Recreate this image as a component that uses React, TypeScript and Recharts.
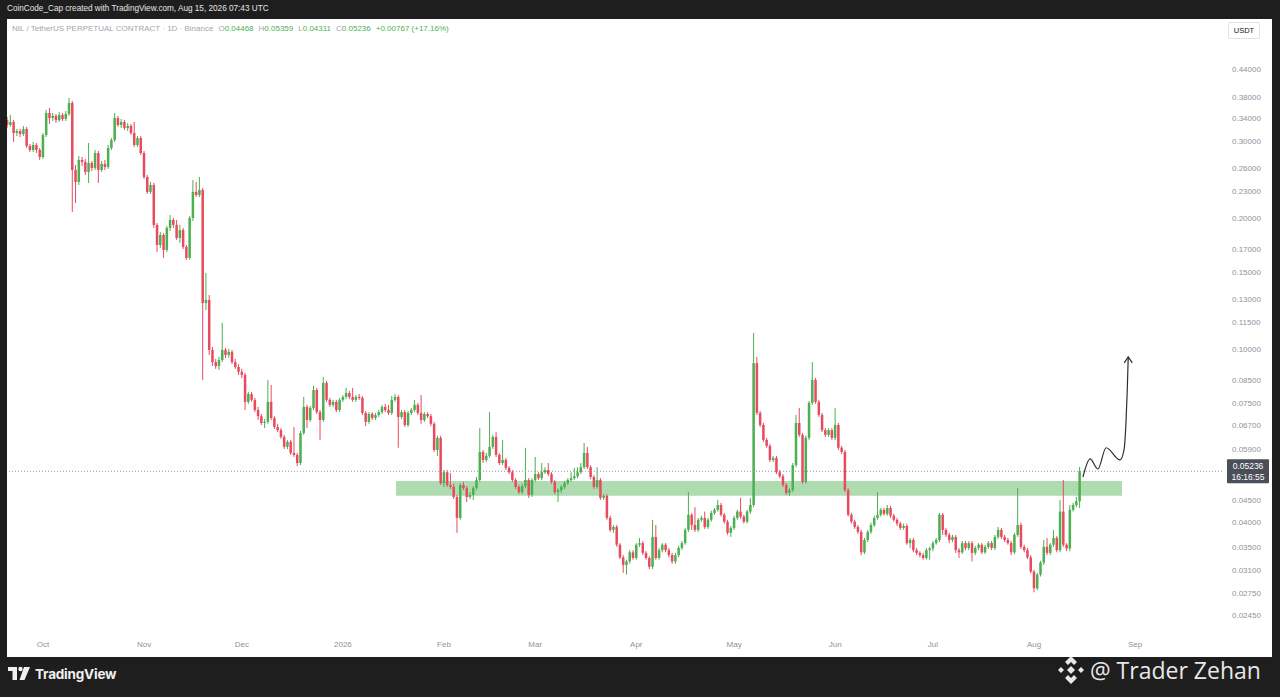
import React from 'react';
import {
  ComposedChart, Bar, Line, XAxis, YAxis, ReferenceArea, ReferenceLine,
} from 'recharts';

// daily candles [open, high, low, close], one array per month
const sep2025 = [
  [0.3359, 0.3414, 0.3221, 0.3272], [0.3272, 0.3450, 0.3238, 0.3324], [0.3324, 0.3359, 0.2990, 0.3136],
  [0.3136, 0.3204, 0.3087, 0.3169], [0.3169, 0.3204, 0.3070, 0.3119], [0.3119, 0.3255, 0.3087, 0.3204],
  [0.3204, 0.3238, 0.2897, 0.2927], [0.2927, 0.2959, 0.2836, 0.2866], [0.2866, 0.2990, 0.2836, 0.2943],
  [0.2943, 0.2975, 0.2821, 0.2866], [0.2866, 0.2897, 0.2719, 0.2762],
];
const oct2025 = [
  [0.2762, 0.3136, 0.2733, 0.3103], [0.3103, 0.3542, 0.3070, 0.3486], [0.3486, 0.3580, 0.3289, 0.3396],
  [0.3396, 0.3486, 0.3341, 0.3432], [0.3432, 0.3468, 0.3306, 0.3359], [0.3359, 0.3505, 0.3324, 0.3450],
  [0.3450, 0.3486, 0.3341, 0.3378], [0.3378, 0.3523, 0.3341, 0.3468], [0.3468, 0.3775, 0.3432, 0.3675],
  [0.3675, 0.3714, 0.2065, 0.2578], [0.2578, 0.2648, 0.2165, 0.2420], [0.2420, 0.2776, 0.2382, 0.2719],
  [0.2719, 0.2762, 0.2634, 0.2690], [0.2690, 0.2733, 0.2511, 0.2551], [0.2551, 0.2975, 0.2408, 0.2676],
  [0.2676, 0.2705, 0.2564, 0.2606], [0.2606, 0.2866, 0.2578, 0.2821], [0.2821, 0.2851, 0.2408, 0.2578],
  [0.2578, 0.2705, 0.2551, 0.2662], [0.2662, 0.2719, 0.2578, 0.2620], [0.2620, 0.2943, 0.2593, 0.2897],
  [0.2897, 0.3054, 0.2866, 0.3022], [0.3022, 0.3486, 0.2990, 0.3396], [0.3396, 0.3432, 0.3238, 0.3272],
  [0.3272, 0.3378, 0.3221, 0.3324], [0.3324, 0.3359, 0.3186, 0.3221], [0.3221, 0.3306, 0.3169, 0.3255],
  [0.3255, 0.3289, 0.3103, 0.3136], [0.3136, 0.3324, 0.2912, 0.2943], [0.2943, 0.3087, 0.2912, 0.3054],
  [0.3054, 0.3087, 0.2791, 0.2821],
];
const nov2025 = [
  [0.2821, 0.2851, 0.2459, 0.2485], [0.2485, 0.2511, 0.2272, 0.2296], [0.2296, 0.2420, 0.2272, 0.2382],
  [0.2382, 0.2408, 0.1898, 0.1928], [0.1928, 0.1948, 0.1671, 0.1734], [0.1734, 0.1857, 0.1707, 0.1828],
  [0.1828, 0.1848, 0.1619, 0.1689], [0.1689, 0.1918, 0.1671, 0.1898], [0.1898, 0.2032, 0.1867, 0.1979],
  [0.1979, 0.2000, 0.1898, 0.1928], [0.1928, 0.1979, 0.1781, 0.1799], [0.1799, 0.1928, 0.1753, 0.1877],
  [0.1877, 0.1898, 0.1698, 0.1716], [0.1716, 0.1734, 0.1602, 0.1619], [0.1619, 0.2021, 0.1602, 0.2000],
  [0.2000, 0.2446, 0.1969, 0.2296], [0.2296, 0.2420, 0.2235, 0.2259], [0.2259, 0.2485, 0.2235, 0.2320],
  [0.2320, 0.2345, 0.0849, 0.1276], [0.1276, 0.1495, 0.1229, 0.1296], [0.1296, 0.1331, 0.0969, 0.0995],
  [0.0995, 0.1011, 0.0914, 0.0933], [0.0933, 0.0949, 0.0900, 0.0914], [0.0914, 0.0959, 0.0895, 0.0943],
  [0.0943, 0.1148, 0.0933, 0.0995], [0.0995, 0.1006, 0.0954, 0.0969], [0.0969, 0.1001, 0.0954, 0.0985],
  [0.0985, 0.0995, 0.0923, 0.0933], [0.0933, 0.0949, 0.0900, 0.0909], [0.0909, 0.0923, 0.0872, 0.0886],
];
const dec2025 = [
  [0.0886, 0.0900, 0.0858, 0.0872], [0.0872, 0.0881, 0.0724, 0.0756], [0.0756, 0.0797, 0.0748, 0.0788],
  [0.0788, 0.0797, 0.0756, 0.0764], [0.0764, 0.0772, 0.0716, 0.0724], [0.0724, 0.0736, 0.0687, 0.0701],
  [0.0701, 0.0709, 0.0669, 0.0676], [0.0676, 0.0690, 0.0658, 0.0680], [0.0680, 0.0849, 0.0673, 0.0756],
  [0.0756, 0.0827, 0.0687, 0.0694], [0.0694, 0.0701, 0.0655, 0.0662], [0.0662, 0.0673, 0.0644, 0.0651],
  [0.0651, 0.0658, 0.0622, 0.0628], [0.0628, 0.0635, 0.0589, 0.0596], [0.0596, 0.0618, 0.0589, 0.0612],
  [0.0612, 0.0618, 0.0571, 0.0577], [0.0577, 0.0662, 0.0565, 0.0571], [0.0571, 0.0577, 0.0538, 0.0547],
  [0.0547, 0.0648, 0.0541, 0.0641], [0.0641, 0.0776, 0.0635, 0.0736], [0.0736, 0.0744, 0.0658, 0.0687],
  [0.0687, 0.0740, 0.0680, 0.0732], [0.0732, 0.0823, 0.0724, 0.0805], [0.0805, 0.0814, 0.0709, 0.0716],
  [0.0716, 0.0724, 0.0618, 0.0687], [0.0687, 0.0863, 0.0680, 0.0836], [0.0836, 0.0845, 0.0756, 0.0764],
  [0.0764, 0.0772, 0.0736, 0.0744], [0.0744, 0.0764, 0.0736, 0.0756], [0.0756, 0.0764, 0.0716, 0.0724],
  [0.0724, 0.0772, 0.0716, 0.0764],
];
const jan2026 = [
  [0.0764, 0.0784, 0.0756, 0.0776], [0.0776, 0.0814, 0.0768, 0.0792], [0.0792, 0.0801, 0.0768, 0.0776],
  [0.0776, 0.0814, 0.0756, 0.0764], [0.0764, 0.0784, 0.0756, 0.0776], [0.0776, 0.0788, 0.0764, 0.0772],
  [0.0772, 0.0780, 0.0705, 0.0713], [0.0713, 0.0720, 0.0665, 0.0680], [0.0680, 0.0716, 0.0673, 0.0709],
  [0.0709, 0.0716, 0.0687, 0.0694], [0.0694, 0.0713, 0.0687, 0.0705], [0.0705, 0.0724, 0.0698, 0.0716],
  [0.0716, 0.0744, 0.0709, 0.0736], [0.0736, 0.0748, 0.0716, 0.0724], [0.0724, 0.0744, 0.0705, 0.0713],
  [0.0713, 0.0780, 0.0705, 0.0764], [0.0764, 0.0788, 0.0756, 0.0776], [0.0776, 0.0784, 0.0593, 0.0698],
  [0.0698, 0.0724, 0.0690, 0.0716], [0.0716, 0.0724, 0.0662, 0.0669], [0.0669, 0.0720, 0.0662, 0.0713],
  [0.0713, 0.0732, 0.0705, 0.0724], [0.0724, 0.0764, 0.0716, 0.0744], [0.0744, 0.0752, 0.0705, 0.0713],
  [0.0713, 0.0784, 0.0673, 0.0687], [0.0687, 0.0716, 0.0680, 0.0709], [0.0709, 0.0716, 0.0694, 0.0701],
  [0.0701, 0.0709, 0.0665, 0.0673], [0.0673, 0.0680, 0.0580, 0.0586], [0.0586, 0.0632, 0.0568, 0.0625],
  [0.0625, 0.0632, 0.0487, 0.0492],
];
const feb2026 = [
  [0.0492, 0.0527, 0.0482, 0.0521], [0.0521, 0.0527, 0.0482, 0.0487], [0.0487, 0.0519, 0.0477, 0.0482],
  [0.0482, 0.0490, 0.0452, 0.0457], [0.0457, 0.0462, 0.0378, 0.0409], [0.0409, 0.0492, 0.0405, 0.0487],
  [0.0487, 0.0495, 0.0474, 0.0479], [0.0479, 0.0484, 0.0445, 0.0457], [0.0457, 0.0469, 0.0452, 0.0462],
  [0.0462, 0.0484, 0.0450, 0.0479], [0.0479, 0.0508, 0.0474, 0.0500], [0.0500, 0.0658, 0.0495, 0.0580],
  [0.0580, 0.0586, 0.0547, 0.0556], [0.0556, 0.0577, 0.0550, 0.0568], [0.0568, 0.0716, 0.0562, 0.0596],
  [0.0596, 0.0635, 0.0589, 0.0628], [0.0628, 0.0644, 0.0565, 0.0571], [0.0571, 0.0577, 0.0541, 0.0547],
  [0.0547, 0.0618, 0.0541, 0.0556], [0.0556, 0.0562, 0.0527, 0.0533], [0.0533, 0.0538, 0.0516, 0.0521],
  [0.0521, 0.0527, 0.0495, 0.0500], [0.0500, 0.0505, 0.0477, 0.0482], [0.0482, 0.0487, 0.0464, 0.0469],
  [0.0469, 0.0490, 0.0464, 0.0484], [0.0484, 0.0593, 0.0479, 0.0500], [0.0500, 0.0505, 0.0455, 0.0462],
  [0.0462, 0.0505, 0.0457, 0.0500],
];
const mar2026 = [
  [0.0500, 0.0565, 0.0495, 0.0516], [0.0516, 0.0521, 0.0500, 0.0505], [0.0505, 0.0547, 0.0500, 0.0521],
  [0.0521, 0.0535, 0.0516, 0.0527], [0.0527, 0.0547, 0.0510, 0.0516], [0.0516, 0.0521, 0.0490, 0.0495],
  [0.0495, 0.0500, 0.0464, 0.0469], [0.0469, 0.0479, 0.0445, 0.0474], [0.0474, 0.0487, 0.0467, 0.0482],
  [0.0482, 0.0497, 0.0477, 0.0492], [0.0492, 0.0505, 0.0487, 0.0500], [0.0500, 0.0521, 0.0495, 0.0505],
  [0.0505, 0.0533, 0.0500, 0.0510], [0.0510, 0.0535, 0.0505, 0.0521], [0.0521, 0.0547, 0.0516, 0.0535],
  [0.0535, 0.0608, 0.0530, 0.0577], [0.0577, 0.0596, 0.0530, 0.0535], [0.0535, 0.0541, 0.0502, 0.0508],
  [0.0508, 0.0513, 0.0477, 0.0482], [0.0482, 0.0535, 0.0477, 0.0500], [0.0500, 0.0505, 0.0450, 0.0455],
  [0.0455, 0.0464, 0.0450, 0.0460], [0.0460, 0.0464, 0.0405, 0.0409], [0.0409, 0.0414, 0.0380, 0.0384],
  [0.0384, 0.0394, 0.0378, 0.0390], [0.0390, 0.0394, 0.0351, 0.0355], [0.0355, 0.0358, 0.0329, 0.0332],
  [0.0332, 0.0336, 0.0306, 0.0319], [0.0319, 0.0328, 0.0303, 0.0325], [0.0325, 0.0345, 0.0321, 0.0341],
  [0.0341, 0.0345, 0.0328, 0.0331],
];
const apr2026 = [
  [0.0331, 0.0358, 0.0328, 0.0355], [0.0355, 0.0368, 0.0351, 0.0358], [0.0358, 0.0362, 0.0336, 0.0340],
  [0.0340, 0.0343, 0.0328, 0.0331], [0.0331, 0.0334, 0.0312, 0.0316], [0.0316, 0.0405, 0.0312, 0.0370],
  [0.0370, 0.0394, 0.0328, 0.0331], [0.0331, 0.0349, 0.0328, 0.0345], [0.0345, 0.0358, 0.0341, 0.0355],
  [0.0355, 0.0358, 0.0341, 0.0345], [0.0345, 0.0349, 0.0332, 0.0336], [0.0336, 0.0340, 0.0321, 0.0325],
  [0.0325, 0.0340, 0.0321, 0.0336], [0.0336, 0.0353, 0.0332, 0.0349], [0.0349, 0.0362, 0.0345, 0.0358],
  [0.0358, 0.0388, 0.0355, 0.0384], [0.0384, 0.0469, 0.0380, 0.0416], [0.0416, 0.0420, 0.0384, 0.0394],
  [0.0394, 0.0433, 0.0380, 0.0384], [0.0384, 0.0409, 0.0380, 0.0405], [0.0405, 0.0414, 0.0401, 0.0409],
  [0.0409, 0.0423, 0.0386, 0.0390], [0.0390, 0.0409, 0.0386, 0.0405], [0.0405, 0.0425, 0.0401, 0.0420],
  [0.0420, 0.0431, 0.0416, 0.0427], [0.0427, 0.0450, 0.0423, 0.0438], [0.0438, 0.0443, 0.0412, 0.0416],
  [0.0416, 0.0420, 0.0397, 0.0401], [0.0401, 0.0405, 0.0374, 0.0378], [0.0378, 0.0392, 0.0370, 0.0388],
];
const may2026 = [
  [0.0388, 0.0414, 0.0384, 0.0409], [0.0409, 0.0427, 0.0405, 0.0423], [0.0423, 0.0455, 0.0407, 0.0412],
  [0.0412, 0.0416, 0.0397, 0.0401], [0.0401, 0.0427, 0.0397, 0.0423], [0.0423, 0.0455, 0.0418, 0.0438],
  [0.0438, 0.1089, 0.0433, 0.0928], [0.0928, 0.0959, 0.0705, 0.0713], [0.0713, 0.0720, 0.0662, 0.0669],
  [0.0669, 0.0676, 0.0612, 0.0618], [0.0618, 0.0625, 0.0593, 0.0599], [0.0599, 0.0605, 0.0550, 0.0556],
  [0.0556, 0.0568, 0.0550, 0.0562], [0.0562, 0.0568, 0.0516, 0.0521], [0.0521, 0.0527, 0.0505, 0.0510],
  [0.0510, 0.0516, 0.0482, 0.0487], [0.0487, 0.0492, 0.0462, 0.0467], [0.0467, 0.0479, 0.0460, 0.0474],
  [0.0474, 0.0547, 0.0469, 0.0541], [0.0541, 0.0705, 0.0535, 0.0676], [0.0676, 0.0732, 0.0628, 0.0635],
  [0.0635, 0.0641, 0.0490, 0.0495], [0.0495, 0.0632, 0.0490, 0.0625], [0.0625, 0.0760, 0.0618, 0.0752],
  [0.0752, 0.0933, 0.0744, 0.0849], [0.0849, 0.0858, 0.0748, 0.0756], [0.0756, 0.0764, 0.0698, 0.0705],
  [0.0705, 0.0713, 0.0644, 0.0651], [0.0651, 0.0658, 0.0628, 0.0635], [0.0635, 0.0658, 0.0628, 0.0651],
  [0.0651, 0.0658, 0.0618, 0.0625],
];
const jun2026 = [
  [0.0625, 0.0732, 0.0618, 0.0669], [0.0669, 0.0676, 0.0586, 0.0593], [0.0593, 0.0599, 0.0574, 0.0580],
  [0.0580, 0.0586, 0.0469, 0.0474], [0.0474, 0.0479, 0.0412, 0.0416], [0.0416, 0.0420, 0.0397, 0.0401],
  [0.0401, 0.0405, 0.0386, 0.0390], [0.0390, 0.0394, 0.0376, 0.0380], [0.0380, 0.0384, 0.0336, 0.0341],
  [0.0341, 0.0368, 0.0338, 0.0364], [0.0364, 0.0384, 0.0360, 0.0380], [0.0380, 0.0399, 0.0376, 0.0394],
  [0.0394, 0.0414, 0.0390, 0.0409], [0.0409, 0.0469, 0.0405, 0.0416], [0.0416, 0.0431, 0.0412, 0.0427],
  [0.0427, 0.0431, 0.0414, 0.0418], [0.0418, 0.0438, 0.0414, 0.0431], [0.0431, 0.0436, 0.0409, 0.0414],
  [0.0414, 0.0418, 0.0401, 0.0405], [0.0405, 0.0409, 0.0392, 0.0397], [0.0397, 0.0401, 0.0384, 0.0388],
  [0.0388, 0.0397, 0.0384, 0.0392], [0.0392, 0.0397, 0.0355, 0.0358], [0.0358, 0.0368, 0.0349, 0.0364],
  [0.0364, 0.0368, 0.0341, 0.0345], [0.0345, 0.0349, 0.0336, 0.0340], [0.0340, 0.0343, 0.0332, 0.0336],
  [0.0336, 0.0340, 0.0328, 0.0331], [0.0331, 0.0349, 0.0328, 0.0345], [0.0345, 0.0351, 0.0328, 0.0348],
];
const jul2026 = [
  [0.0348, 0.0362, 0.0343, 0.0358], [0.0358, 0.0368, 0.0355, 0.0364], [0.0364, 0.0420, 0.0360, 0.0416],
  [0.0416, 0.0420, 0.0374, 0.0384], [0.0384, 0.0388, 0.0370, 0.0374], [0.0374, 0.0378, 0.0358, 0.0364],
  [0.0364, 0.0374, 0.0360, 0.0370], [0.0370, 0.0374, 0.0340, 0.0345], [0.0345, 0.0349, 0.0331, 0.0341],
  [0.0341, 0.0362, 0.0338, 0.0358], [0.0358, 0.0362, 0.0345, 0.0349], [0.0349, 0.0362, 0.0345, 0.0358],
  [0.0358, 0.0362, 0.0325, 0.0340], [0.0340, 0.0353, 0.0336, 0.0349], [0.0349, 0.0358, 0.0345, 0.0355],
  [0.0355, 0.0358, 0.0338, 0.0341], [0.0341, 0.0355, 0.0338, 0.0351], [0.0351, 0.0362, 0.0347, 0.0358],
  [0.0358, 0.0362, 0.0345, 0.0349], [0.0349, 0.0374, 0.0345, 0.0370], [0.0370, 0.0390, 0.0366, 0.0384],
  [0.0384, 0.0388, 0.0366, 0.0370], [0.0370, 0.0374, 0.0360, 0.0364], [0.0364, 0.0368, 0.0355, 0.0358],
  [0.0358, 0.0362, 0.0336, 0.0341], [0.0341, 0.0378, 0.0338, 0.0374], [0.0374, 0.0479, 0.0370, 0.0394],
  [0.0394, 0.0399, 0.0347, 0.0351], [0.0351, 0.0355, 0.0341, 0.0345], [0.0345, 0.0349, 0.0329, 0.0332],
  [0.0332, 0.0336, 0.0305, 0.0308],
];
const aug2026 = [
  [0.0308, 0.0311, 0.0276, 0.0282], [0.0282, 0.0306, 0.0279, 0.0303], [0.0303, 0.0326, 0.0300, 0.0323],
  [0.0323, 0.0364, 0.0319, 0.0351], [0.0351, 0.0368, 0.0336, 0.0340], [0.0340, 0.0358, 0.0336, 0.0355],
  [0.0355, 0.0384, 0.0351, 0.0368], [0.0368, 0.0372, 0.0341, 0.0345], [0.0345, 0.0450, 0.0341, 0.0423],
  [0.0423, 0.0500, 0.0351, 0.0355], [0.0355, 0.0358, 0.0343, 0.0348], [0.0348, 0.0438, 0.0343, 0.0427],
  [0.0427, 0.0443, 0.0423, 0.0438], [0.0438, 0.0457, 0.0433, 0.04468], [0.04468, 0.05359, 0.04311, 0.05236],
];

const DAY = 86400000;
const FIRST_CANDLE = Date.UTC(2025, 8, 20);
const OCT_1 = Date.UTC(2025, 9, 1);

const monthTicks = [
  Date.UTC(2025, 9, 1), Date.UTC(2025, 10, 1), Date.UTC(2025, 11, 1), Date.UTC(2026, 0, 1),
  Date.UTC(2026, 1, 1), Date.UTC(2026, 2, 1), Date.UTC(2026, 3, 1), Date.UTC(2026, 4, 1),
  Date.UTC(2026, 5, 1), Date.UTC(2026, 6, 1), Date.UTC(2026, 7, 1), Date.UTC(2026, 8, 1),
];
const monthLabels = ['Oct', 'Nov', 'Dec', '2026', 'Feb', 'Mar', 'Apr', 'May', 'Jun', 'Jul', 'Aug', 'Sep'];

const priceTicks = [
  0.44, 0.38, 0.34, 0.30, 0.26, 0.23, 0.20, 0.17, 0.15, 0.13, 0.115, 0.10,
  0.085, 0.075, 0.067, 0.059, 0.045, 0.040, 0.035, 0.031, 0.0275, 0.0245,
];

// support zone drawn by the author (days after Oct 1 and prices)
const zoneDays = [108.3, 331];
const zonePrices = [0.04598, 0.04976];

// hand-drawn projection arrow
const arrowDays = [319.0, 321.2, 323.6, 326.1, 330.4, 331.6, 332.2, 332.6, 332.9];
const arrowPrices = [0.0508, 0.0559, 0.0530, 0.0593, 0.0556, 0.0586, 0.0676, 0.0805, 0.0959];

const LAST_PRICE = 0.05236;

const UP = '#4caf50';
const DOWN = '#e84a5f';
const FONT = '"Liberation Sans", Arial, sans-serif';

const candles = [
  ...sep2025, ...oct2025, ...nov2025, ...dec2025, ...jan2026, ...feb2026,
  ...mar2026, ...apr2026, ...may2026, ...jun2026, ...jul2026, ...aug2026,
].map((k, i) => ({ t: FIRST_CANDLE + i * DAY, o: k[0], h: k[1], l: k[2], c: k[3] }));

const arrow = arrowDays.map((d, i) => ({ t: OCT_1 + d * DAY, p: arrowPrices[i] }));

const Candle = (props: any) => {
  const { x, y, width, height, payload } = props;
  if (!payload || x == null || y == null) return null;
  const top = Math.min(y, y + height);
  const span = Math.abs(height);
  const lnH = Math.log(payload.h);
  const lnRange = lnH - Math.log(payload.l);
  const yOf = (v: number) => (lnRange > 0 ? top + (span * (lnH - Math.log(v))) / lnRange : top);
  const cx = x + width / 2;
  const color = payload.c >= payload.o ? UP : DOWN;
  const bodyTop = yOf(Math.max(payload.o, payload.c));
  const bodyBottom = yOf(Math.min(payload.o, payload.c));
  return (
    <g>
      <line x1={cx} x2={cx} y1={top} y2={top + span} stroke={color} strokeWidth={1} />
      <rect x={cx - 1.25} y={bodyTop} width={2.5} height={Math.max(bodyBottom - bodyTop, 1)} fill={color} />
    </g>
  );
};

const ArrowHead = (props: any) => {
  const { cx, cy, index } = props;
  if (index !== arrow.length - 1) return <g key={index} />;
  return (
    <path key={index} d={`M${cx - 4},${cy + 6} L${cx},${cy} L${cx + 4},${cy + 6}`}
      fill="none" stroke="#2a2e39" strokeWidth={1.2} />
  );
};

const PriceTag = (props: any) => {
  const vb = props.viewBox;
  if (!vb) return null;
  const right = vb.x + vb.width;
  return (
    <g>
      <rect x={right + 5} y={vb.y - 12} width={42} height={24} fill="#4a4e59" rx={1} />
      <text x={right + 26} y={vb.y - 2} textAnchor="middle" fill="#fff" fontSize={8.5} fontFamily={FONT}>
        {LAST_PRICE.toFixed(5)}
      </text>
      <text x={right + 26} y={vb.y + 8.5} textAnchor="middle" fill="#fff" fontSize={8.5} fontFamily={FONT}>
        16:16:55
      </text>
    </g>
  );
};

const Header: React.FC = () => (
  <div style={{ position: 'absolute', left: 5, top: 5, fontSize: 8, color: '#a3a6af', whiteSpace: 'nowrap' }}>
    NIL / TetherUS PERPETUAL CONTRACT · 1D · Binance
    <span style={{ marginLeft: 5 }}>O<span style={{ color: UP }}>0.04468</span></span>
    <span style={{ marginLeft: 5 }}>H<span style={{ color: UP }}>0.05359</span></span>
    <span style={{ marginLeft: 5 }}>L<span style={{ color: UP }}>0.04311</span></span>
    <span style={{ marginLeft: 5 }}>C<span style={{ color: UP }}>0.05236</span></span>
    <span style={{ marginLeft: 5, color: UP }}>+0.00767 (+17.16%)</span>
  </div>
);

const App: React.FC = () => (
  <div style={{ position: 'absolute', left: 0, top: 0, width: 1280, height: 697, background: '#1e1e1e', fontFamily: FONT, overflow: 'hidden' }}>
    <div style={{ position: 'absolute', left: 7, top: 4, fontSize: 8.2, color: '#e6e6e6', whiteSpace: 'nowrap' }}>
      CoinCode_Cap created with TradingView.com, Aug 15, 2026 07:43 UTC
    </div>
    <div style={{ position: 'absolute', left: 7, top: 19, width: 1265, height: 638, background: '#fff' }}>
      <ComposedChart width={1265} height={638} data={candles} margin={{ top: 0, right: 0, bottom: 0, left: 0 }}>
        <XAxis
          dataKey="t" type="number" scale="linear" allowDataOverflow
          domain={[OCT_1 - 11.04 * DAY, OCT_1 + 361.66 * DAY]}
          ticks={monthTicks} interval={0}
          tickFormatter={(v: number) => monthLabels[monthTicks.indexOf(v)] ?? ''}
          axisLine={false} tickLine={false} tickSize={0} tickMargin={9} height={25}
          tick={{ fontSize: 8, fill: '#8f929b', fontFamily: FONT }}
        />
        <YAxis
          orientation="right" type="number" scale="log" allowDataOverflow
          domain={[0.02237, 0.5732]} ticks={priceTicks} interval={0}
          tickFormatter={(v: number) => v.toFixed(5)}
          axisLine={false} tickLine={false} tickSize={0} tickMargin={10} width={50}
          tick={{ fontSize: 8, fill: '#8f929b', fontFamily: FONT, textAnchor: 'start' }}
        />
        <ReferenceArea
          x1={OCT_1 + zoneDays[0] * DAY} x2={OCT_1 + zoneDays[1] * DAY}
          y1={zonePrices[0]} y2={zonePrices[1]}
          fill="#4caf50" fillOpacity={0.45} stroke="none" ifOverflow="hidden"
        />
        <ReferenceLine y={LAST_PRICE} stroke="#9598a1" strokeDasharray="1 2" strokeWidth={1} label={<PriceTag />} />
        <Bar dataKey={(c: any) => [c.l, c.h]} shape={<Candle />} barSize={3} isAnimationActive={false} />
        <Line
          data={arrow} dataKey="p" type="monotone" stroke="#2a2e39" strokeWidth={1.2}
          dot={<ArrowHead />} activeDot={false} isAnimationActive={false}
        />
      </ComposedChart>
      <Header />
      <div style={{ position: 'absolute', left: 1221, top: 3, width: 30, height: 15, border: '1px solid #e0e3eb', borderRadius: 2, fontSize: 7.5, color: '#131722', display: 'flex', alignItems: 'center', justifyContent: 'center', background: '#fff' }}>
        USDT
      </div>
    </div>
    <div style={{ position: 'absolute', left: 8, top: 666, display: 'flex', alignItems: 'center', color: '#f0f0f0' }}>
      <svg width={24} height={16} viewBox="0 0 24 16">
        <path d="M0 1 H9 V14 H4.5 V5 H0 Z" fill="#f0f0f0" />
        <circle cx={12.5} cy={3} r={2.2} fill="#f0f0f0" />
        <path d="M16 1 H22 L16.5 14 H11.5 Z" fill="#f0f0f0" />
      </svg>
      <span style={{ marginLeft: 3, fontSize: 13.5, fontWeight: 700, fontFamily: 'Inter, sans-serif', letterSpacing: -0.2 }}>TradingView</span>
    </div>
    <div style={{ position: 'absolute', left: 1057, top: 654, display: 'flex', alignItems: 'center', color: '#e8e8e8' }}>
      <svg width={28} height={30} viewBox="0 0 28 30">
        <polygon points="14,1 20,7 17,10 14,7 11,10 8,7" fill="#e8e8e8" />
        <polygon points="14,29 20,23 17,20 14,23 11,20 8,23" fill="#e8e8e8" />
        <polygon points="14,11 18,15 14,19 10,15" fill="#e8e8e8" />
        <polygon points="4,12 7,15 4,18 1,15" fill="#e8e8e8" />
        <polygon points="24,12 27,15 24,18 21,15" fill="#e8e8e8" />
      </svg>
      <span style={{ marginLeft: 5, fontSize: 23, fontFamily: '"Open Sans", sans-serif' }}>@ Trader Zehan</span>
    </div>
  </div>
);

export default App;
